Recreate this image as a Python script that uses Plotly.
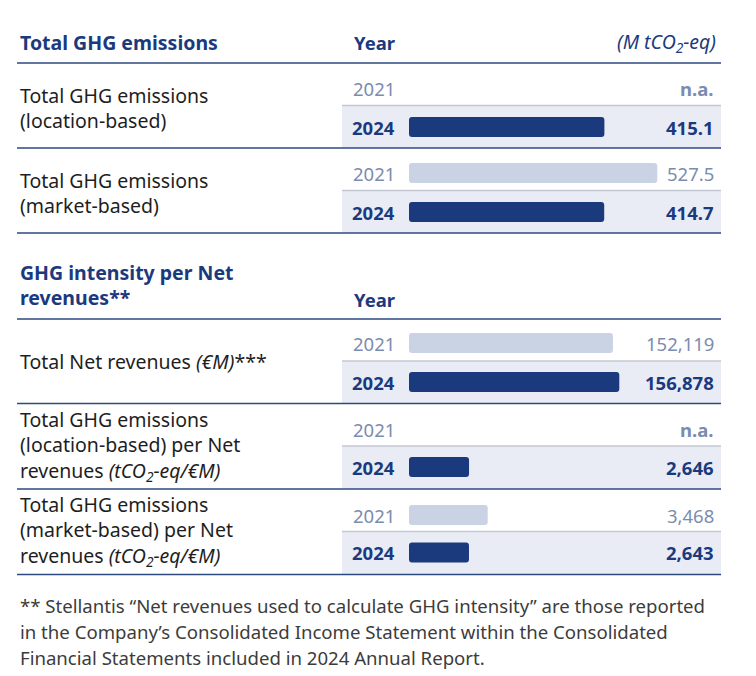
import plotly.graph_objects as go

# ---------------- data ----------------
years = ["2021", "2024"]

emission_labels = [["Total GHG emissions", "(location-based)"],
                   ["Total GHG emissions", "(market-based)"]]
emission_2021 = [None, 527.5]
emission_2024 = [415.1, 414.7]

revenue_labels = [["Total Net revenues <i>(€M)</i>***"]]
revenue_2021 = [152119]
revenue_2024 = [156878]

intensity_labels = [["Total GHG emissions", "(location-based) per Net",
                     "revenues <i>(tCO<sub>2</sub>-eq/€M)</i>"],
                    ["Total GHG emissions", "(market-based) per Net",
                     "revenues <i>(tCO<sub>2</sub>-eq/€M)</i>"]]
intensity_2021 = [None, 3468]
intensity_2024 = [2646, 2643]

section1_title = "Total GHG emissions"
section1_unit = "<i>(M tCO<sub>2</sub>-eq)</i>"
section2_title = ["GHG intensity per Net", "revenues**"]
year_header = "Year"
footnote = ["** Stellantis “Net revenues used to calculate GHG intensity” are those reported",
            "in the Company’s Consolidated Income Statement within the Consolidated",
            "Financial Statements included in 2024 Annual Report."]

# ---------------- styling ----------------
W, H = 756, 676
NAVY = "#1b3a7e"
LINE = "#2d4a7f"
LIGHT_BAR = "#c9d3e4"
BG = "#e9ecf5"
GREY_TXT = "#7c8cae"
LABEL_TXT = "#1e1e1e"
FOOT_TXT = "#3c3c3c"
FONT = "Noto Sans"
FS = 18.5        # year / value cells
FS_LABEL = 19.5  # row labels and titles

BAR_X0 = 409          # pixel where bars start
BAR_H = 20
COL_X0 = 342          # grey block start
COL_X1 = 721          # right edge of table
LINE_X0 = 17
VAL_X = 716
YEAR_X = 351

def px(x):
    return x / W

fig = go.Figure()
annotations = []
shapes = []

def text(x, y, s, anchor="left", color=LABEL_TXT, size=FS, weight="normal"):
    annotations.append(dict(
        x=px(x), y=y, xref="paper", yref="y", text=s, showarrow=False,
        xanchor=anchor, yanchor="middle", align="left",
        font=dict(family=FONT, size=size, color=color, weight=weight)))

def hline(y, x0=LINE_X0, x1=COL_X1, color=LINE, width=1.4):
    shapes.append(dict(type="line", xref="paper", yref="y",
                       x0=px(x0), x1=px(x1), y0=y, y1=y,
                       line=dict(color=color, width=width), layer="above"))

def bg(y0, y1):
    shapes.append(dict(type="rect", xref="paper", yref="y",
                       x0=px(COL_X0), x1=px(COL_X1), y0=y0, y1=y1,
                       fillcolor=BG, line=dict(width=0), layer="below"))

# axis scales (pixels per unit) derived so that bars start at BAR_X0
axes_scale = {"x": 248.3 / 527.5, "x2": 210.3 / 156878, "x3": 78.7 / 3468}

def add_bar(axis, y, v, color):
    if v is None:
        return
    fig.add_trace(go.Bar(x=[v], y=[y], orientation="h", width=BAR_H, base=0,
                         marker=dict(color=color, line=dict(width=0)),
                         xaxis=axis, yaxis="y", showlegend=False,
                         hoverinfo="skip"))

def fmt(v, kind):
    if v is None:
        return "n.a."
    if kind == "x":
        return f"{v:,.1f}"
    return f"{v:,.0f}"

def group(labels, v21, v24, axis, label_y, row_ys, y_bot, y_split):
    bg(y_split, y_bot)
    hline(y_split, COL_X0, COL_X1, color="#c4c8d2", width=1.5)
    hline(y_bot)
    text(LINE_X0 + 1, label_y, "<br>".join(labels), size=FS_LABEL)
    y21, y24 = row_ys
    text(YEAR_X, y21, years[0], color=GREY_TXT)
    text(YEAR_X - 1, y24, years[1], color=NAVY, weight="bold")
    add_bar(axis, y21, v21, LIGHT_BAR)
    add_bar(axis, y24, v24, NAVY)
    text(VAL_X, y21, fmt(v21, axis), anchor="right", color=GREY_TXT,
         weight="bold" if v21 is None else "normal")
    text(VAL_X, y24, fmt(v24, axis), anchor="right", color=NAVY, weight="bold")

# ---- section 1 ----
text(LINE_X0 + 1, 42, section1_title, color=NAVY, weight="bold", size=FS_LABEL)
text(352, 42, year_header, color=NAVY, weight="bold")
text(VAL_X + 2, 42, section1_unit, anchor="right", color=NAVY, size=19.5)
hline(63)
for i in range(2):
    top = 63 + i * 85
    group(emission_labels[i], emission_2021[i], emission_2024[i], "x",
          top + 44.5, [top + 25, top + 64], top + 85, top + 42.5)

# ---- section 2 ----
text(LINE_X0 + 1, 285, "<br>".join(section2_title), color=NAVY, weight="bold",
     size=FS_LABEL)
text(352, 299, year_header, color=NAVY, weight="bold")
hline(319)
group(revenue_labels[0], revenue_2021[0], revenue_2024[0], "x2",
      361, [343, 382], 403.5, 361)
for i in range(2):
    top = 403.5 + i * 85.5
    group(intensity_labels[i], intensity_2021[i], intensity_2024[i], "x3",
          top + 42, [top + 26, top + 63.5], top + 85.5, top + 42.5)

# ---- footnote ----
for i, line in enumerate(footnote):
    text(LINE_X0 + 1, 605 + i * 26, line, color=FOOT_TXT, size=18.6)

layout_axes = {}
for name, s in axes_scale.items():
    key = "xaxis" if name == "x" else "xaxis" + name[1:]
    ax = dict(range=[-BAR_X0 / s, (W - BAR_X0) / s], domain=[0, 1],
              visible=False, fixedrange=True)
    if name != "x":
        ax["overlaying"] = "x"
    layout_axes[key] = ax

fig.update_layout(
    width=W, height=H, margin=dict(l=0, r=0, t=0, b=0),
    paper_bgcolor="white", plot_bgcolor="white",
    barmode="overlay", barcornerradius=3,
    yaxis=dict(range=[H, 0], domain=[0, 1], visible=False, fixedrange=True),
    shapes=shapes, annotations=annotations, showlegend=False,
    **layout_axes)

fig.write_html("out.html", config={"displayModeBar": False})
